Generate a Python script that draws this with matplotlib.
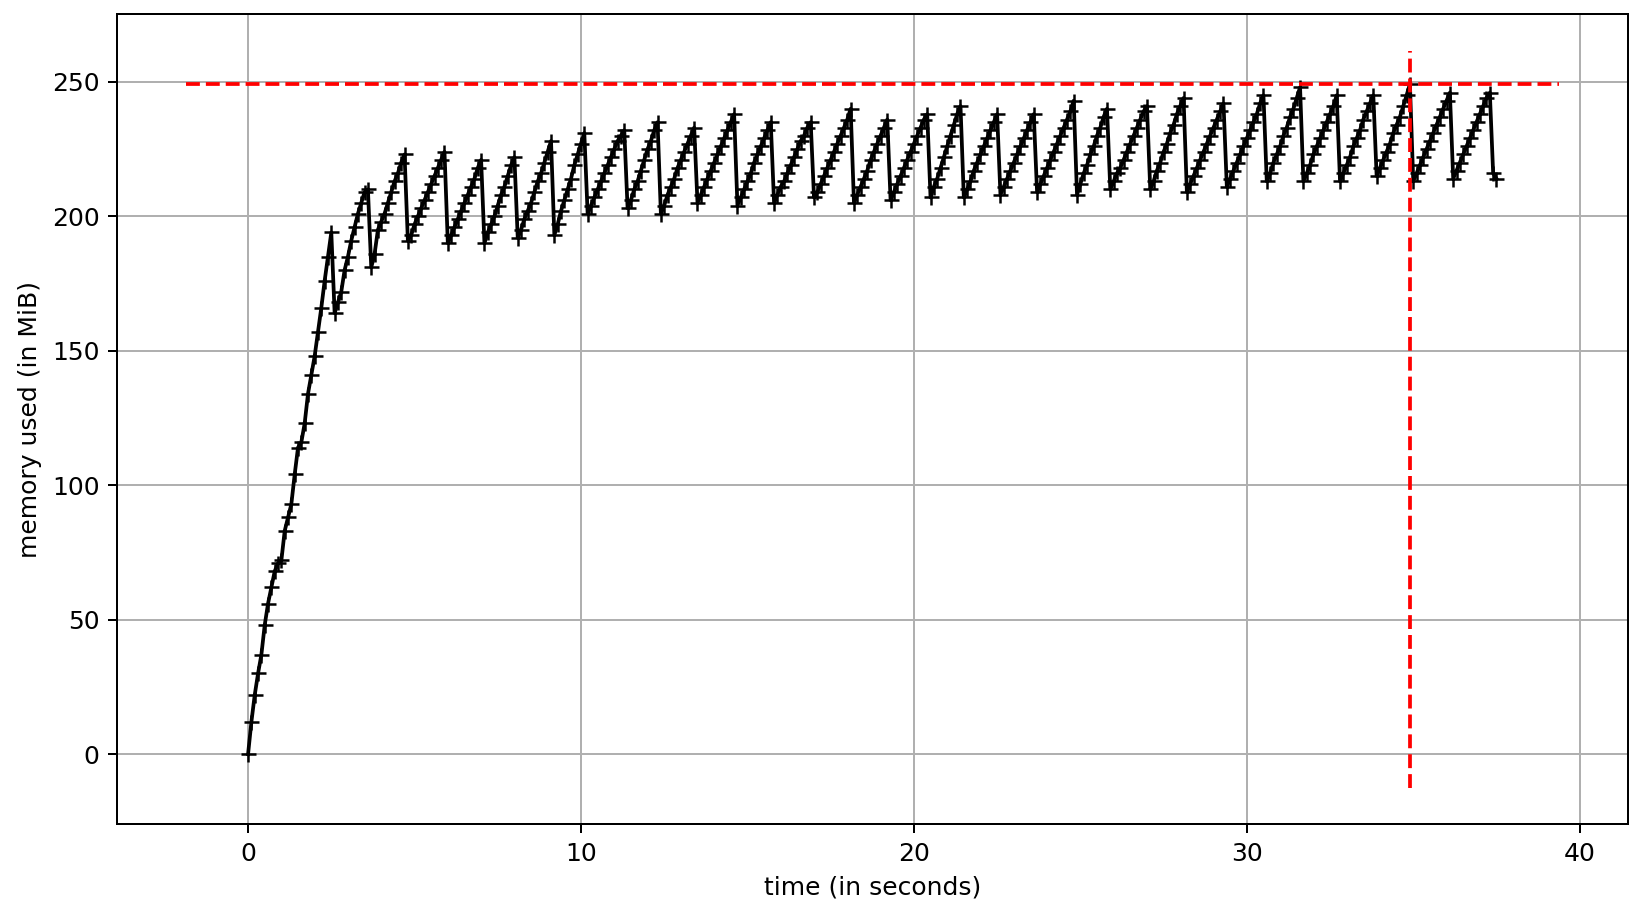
import numpy as np
import matplotlib
matplotlib.use('Agg')
import matplotlib.pyplot as plt

# memory samples (MiB), one every sample_interval seconds
sample_interval = 0.1

memory_mib = [
    # start-up ramp
    0, 12, 22, 30, 37, 48, 56, 62, 68, 71, 72, 83, 88, 93, 104, 114, 116,
    123, 134, 141, 148, 157, 166, 176, 185, 194,
    # sawtooth cycles
    164, 168, 172, 180, 185, 191, 196, 201, 205, 209, 210,
    181, 186, 195, 198, 201, 205, 209, 213, 216, 220, 223,
    191, 193, 197, 200, 203, 206, 209, 212, 215, 218, 221, 224,
    190, 193, 196, 199, 202, 205, 208, 211, 214, 218, 221,
    190, 194, 197, 200, 204, 208, 211, 215, 219, 222,
    192, 195, 199, 202, 205, 209, 213, 216, 220, 224, 228,
    193, 197, 202, 206, 210, 214, 219, 223, 227, 231,
    201, 204, 207, 210, 213, 216, 219, 222, 225, 228, 230, 232,
    203, 206, 210, 213, 217, 221, 225, 228, 232, 235,
    201, 204, 208, 211, 214, 218, 221, 224, 227, 230, 233,
    205, 208, 211, 214, 217, 220, 223, 226, 229, 232, 235, 238,
    204, 207, 210, 213, 216, 220, 223, 226, 229, 232, 235,
    205, 208, 211, 213, 216, 219, 222, 225, 228, 230, 233, 235,
    207, 209, 212, 215, 218, 221, 224, 227, 230, 233, 236, 240,
    205, 208, 211, 214, 217, 221, 224, 227, 230, 233, 236,
    206, 209, 212, 215, 218, 221, 224, 227, 230, 233, 236, 238,
    207, 211, 214, 218, 222, 226, 230, 234, 238, 241,
    207, 210, 213, 217, 220, 223, 226, 229, 232, 235, 238,
    208, 211, 214, 217, 220, 223, 226, 229, 232, 235, 238,
    209, 212, 215, 218, 221, 224, 227, 230, 233, 236, 239, 243,
    208, 212, 216, 219, 223, 226, 230, 233, 237, 240,
    210, 213, 216, 218, 221, 224, 227, 230, 233, 236, 239, 241,
    210, 213, 217, 220, 224, 227, 231, 234, 238, 241, 244,
    209, 212, 215, 218, 221, 224, 227, 230, 233, 236, 239, 242,
    211, 214, 217, 220, 223, 226, 229, 232, 235, 238, 242, 245,
    213, 216, 220, 223, 226, 230, 233, 237, 240, 244, 248,
    213, 216, 219, 223, 226, 229, 232, 235, 238, 241, 245,
    213, 216, 219, 222, 226, 229, 232, 236, 239, 242, 245,
    215, 218, 221, 224, 227, 231, 234, 237, 241, 245, 249.2,
    213, 216, 219, 222, 225, 228, 231, 234, 237, 240, 243, 246,
    214, 217, 220, 223, 226, 229, 232, 235, 238, 241, 244, 246,
    # end
    216, 214,
]

mem = np.array(memory_mib, dtype=float)
t = np.arange(len(mem)) * sample_interval

fig = plt.figure(figsize=(1639 / 180, 910 / 180), dpi=180)
ax = fig.add_subplot(111)
ax.plot(t, mem, '+-k')

# max memory markers, same way mprof draws them
max_mem = mem.max()
max_ind = mem.argmax()
xlo, xhi = ax.get_xlim()
ax.hlines(max_mem, xlo + 0.001, xhi - 0.001, colors='r', linestyles='--')
ylo, yhi = ax.get_ylim()
ax.vlines(t[max_ind], ylo + 0.001, yhi - 0.001, colors='r', linestyles='--')

ax.set_xlabel('time (in seconds)')
ax.set_ylabel('memory used (in MiB)')
ax.grid(True)

fig.subplots_adjust(left=0.0714, right=0.993, top=0.985, bottom=0.094)
fig.savefig('out.png', dpi=180)
